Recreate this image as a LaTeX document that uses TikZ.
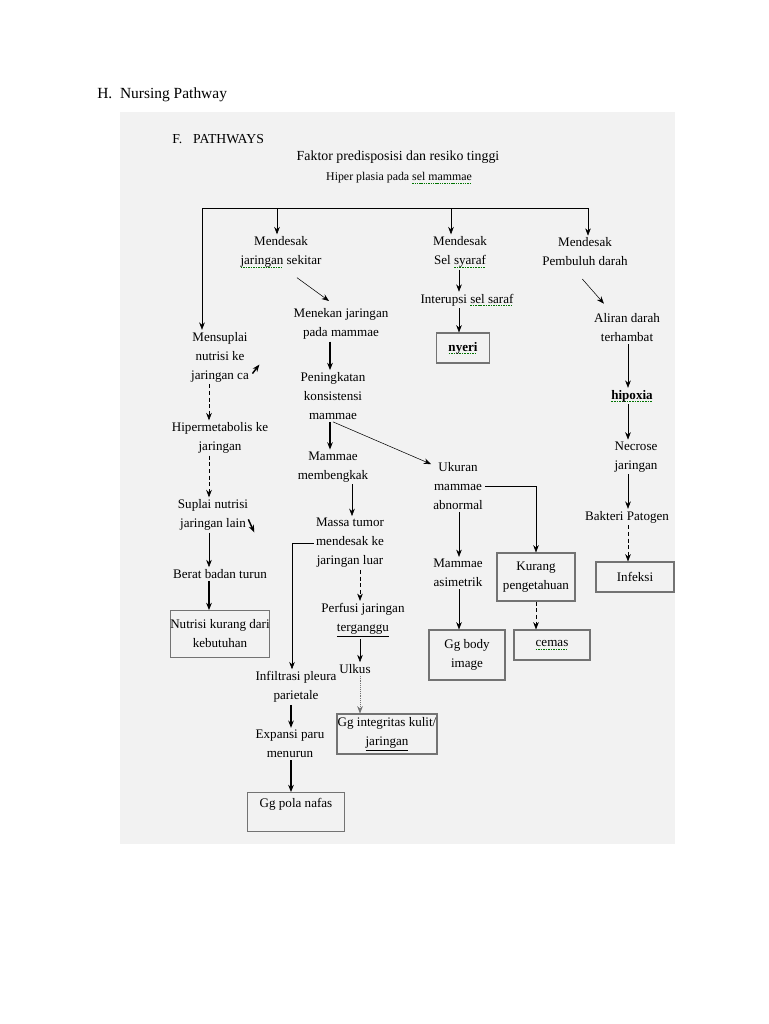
\documentclass[tikz,border=0pt]{standalone}
\usepackage{fontspec}
\setmainfont{Liberation Serif}
\usetikzlibrary{positioning, arrows, arrows.meta}
\newcommand{\lblfont}{\fontsize{9.8}{14.25}\selectfont}
\newsavebox{\splbox}
\newcommand{\spl}[1]{\sbox{\splbox}{#1}\rlap{\raisebox{-0.45ex}{\textcolor{green!45!black}{\hbox to \wd\splbox{\xleaders\hbox{\rule{0.12em}{0.5pt}\kern0.07em}\hfill}}}}\usebox{\splbox}}
\tikzset{->,>={Stealth[length=5.5pt,width=4.2pt]}, line width=0.9pt,
lbl/.style={align=center, font=\lblfont, inner sep=1.5pt},
box/.style={draw=black!55, line width=0.8pt, align=center, font=\lblfont, inner sep=1pt},
bold/.style={line width=1.6pt},
dsh/.style={densely dashed},
}

\begin{document}
\begin{tikzpicture}[x=0.75pt,y=-0.75pt]
    \useasboundingbox (0,0) rectangle (768,1024);
    \fill[black!5] (120,112) rectangle (675,844);
    \node[anchor=west, inner sep=0, font=\fontsize{11.6}{14}\selectfont] (hdr) at (97,95) {H.\ \ Nursing Pathway};
    \node[anchor=west, inner sep=0, font=\fontsize{10.3}{12}\selectfont] (ttl) at (172,139) {F.\hspace{0.8em}PATHWAYS};
    \node[lbl, font=\fontsize{10.4}{12}\selectfont] (fak) at (398,157) {Faktor predisposisi dan resiko tinggi};
    \node[lbl, font=\fontsize{8.9}{11}\selectfont] (hip) at (399,178) {Hiper plasia pada \spl{sel mammae}};
    % column guides
    \coordinate (barL) at (202,208);
    \coordinate (barR) at (588,208);
    \coordinate (cL) at (209,0);
    \coordinate (cJ) at (277,0);
    \coordinate (cS) at (451,0);
    \coordinate (cN) at (459,0);
    \coordinate (cM) at (330,0);
    \coordinate (cT) at (352,0);
    \coordinate (cP) at (360,0);
    \coordinate (cI) at (291,0);
    \coordinate (cK) at (536,0);
    \coordinate (cR) at (628,0);
    % second row
    \node[lbl] (jar) at (281,252) {Mendesak\\\spl{jaringan} sekitar};
    \node[lbl] (syr) at (460,252) {Mendesak\\Sel \spl{syaraf}};
    \node[lbl] (drh) at (585,252) {Mendesak\\Pembuluh darah};
    % left column
    \node[lbl] (mens) at (220,357) {Mensuplai\\nutrisi ke\\jaringan ca};
    \node[lbl] (hipm) at (220,438) {Hipermetabolis ke\\jaringan};
    \node[lbl] (supl) at (213,515) {Suplai nutrisi\\jaringan lain};
    \node[lbl] (brt) at (220,574) {Berat badan turun};
    \node[box, minimum width=73.5pt, minimum height=35pt, inner xsep=0pt] (ntr) at (220,634) {Nutrisi kurang dari\\kebutuhan};
    % middle column
    \node[lbl] (menk) at (341,324) {Menekan jaringan\\pada mammae};
    \node[lbl] (pen) at (333,396) {Peningkatan\\konsistensi\\mammae};
    \node[lbl] (mbk) at (333,467) {Mammae\\membengkak};
    \node[lbl] (mss) at (350,543) {Massa tumor\\mendesak ke\\jaringan luar};
    \node[lbl] (prf) at (363,620) {Perfusi jaringan\\\underline{terganggu}};
    \node[lbl] (ulk) at (355,669) {Ulkus};
    \node[box, minimum width=75pt, minimum height=30pt, inner xsep=0pt] (gik) at (387,734) {Gg integritas kulit/\\\underline{jaringan}};
    \node[lbl] (inf) at (296,687) {Infiltrasi pleura\\parietale};
    \node[lbl] (exp) at (290,744) {Expansi paru\\menurun};
    \node[box, minimum width=73pt, minimum height=29pt, text depth=13pt] (gpn) at (296,812) {Gg pola nafas};
    % nerve branch
    \node[lbl] (isr) at (467,300) {Interupsi \spl{sel saraf}};
    \node[box, minimum width=40pt, minimum height=22.5pt] (nyr) at (463,348) {\spl{\textbf{nyeri}}};
    % size branch
    \node[lbl] (ukr) at (458,486) {Ukuran\\mammae\\abnormal};
    \node[lbl] (asm) at (458,573) {Mammae\\asimetrik};
    \node[box, minimum width=57pt, minimum height=37.5pt] (gbi) at (467,655) {Gg body\\image};
    \node[box, minimum width=58.5pt, minimum height=36pt] (kur) at (536,577) {Kurang\\pengetahuan};
    \node[box, minimum width=57pt, minimum height=22.5pt] (cms) at (552,645) {\spl{cemas}};
    % blood branch
    \node[lbl] (alr) at (627,328) {Aliran darah\\terhambat};
    \node[lbl] (hpx) at (632,396) {\spl{\textbf{hipoxia}}};
    \node[lbl] (ncr) at (636,457) {Necrose\\jaringan};
    \node[lbl] (bkt) at (627,517) {Bakteri Patogen};
    \node[box, minimum width=58.5pt, minimum height=22.5pt] (ifk) at (635,577) {Infeksi};

    % top bar
    \draw[-] (barL) -- (barR);
    \draw (barL) -- (barL |- mens.north);
    \draw (cJ |- barL) -- (cJ |- jar.north);
    \draw (cS |- barL) -- (cS |- syr.north);
    \draw (barR) -- (barR |- drh.north);
    % left column
    \draw[line width=1.1pt] ([xshift=1pt,yshift=8pt]mens.south east) -- ++(7,-9);
    \draw[dsh] (cL |- mens.south) -- (cL |- hipm.north);
    \draw[dsh] (cL |- hipm.south) -- (cL |- supl.north);
    \draw[line width=1.1pt] ([xshift=-1.5pt,yshift=10pt]supl.south east) -- ++(6,13);
    \draw (cL |- supl.south) -- (cL |- brt.north);
    \draw[bold] (cL |- brt.south) -- (cL |- ntr.north);
    % middle column
    \draw ([xshift=12pt,yshift=-6pt]jar.south) -- ([xshift=-9pt,yshift=4pt]menk.north);
    \draw[bold] (cM |- menk.south) -- (cM |- pen.north);
    \draw[bold] (cM |- pen.south) -- (cM |- mbk.north);
    \draw (pen.south) -- ([yshift=-3pt]ukr.north west);
    \draw (cT |- mbk.south) -- (cT |- mss.north);
    \draw (mss.west) -| ([xshift=-3pt]inf.north);
    \draw[dsh] (cP |- mss.south) -- (cP |- prf.north);
    \draw (cP |- prf.south) -- (cP |- ulk.north);
    \draw[draw=black!55, densely dotted] (cP |- ulk.south) -- (cP |- gik.north);
    \draw[bold] (cI |- inf.south) -- (cI |- exp.north);
    \draw[bold] (cI |- exp.south) -- (cI |- gpn.north);
    % nerve branch
    \draw (cN |- syr.south) -- (cN |- isr.north);
    \draw (cN |- isr.south) -- (cN |- nyr.north);
    % size branch
    \draw (ukr.east) -| (kur.north);
    \draw (cN |- ukr.south) -- (cN |- asm.north);
    \draw (cN |- asm.south) -- (cN |- gbi.north);
    \draw[dsh] (cK |- kur.south) -- (cK |- cms.north);
    % blood branch
    \draw ([xshift=-2pt,yshift=-8pt]drh.south) -- ([xshift=9pt,yshift=6pt]alr.north west);
    \draw (cR |- alr.south) -- (cR |- hpx.north);
    \draw (cR |- hpx.south) -- (cR |- ncr.north);
    \draw (cR |- ncr.south) -- (cR |- bkt.north);
    \draw[dsh] (cR |- bkt.south) -- (cR |- ifk.north);
\end{tikzpicture}
\end{document}
